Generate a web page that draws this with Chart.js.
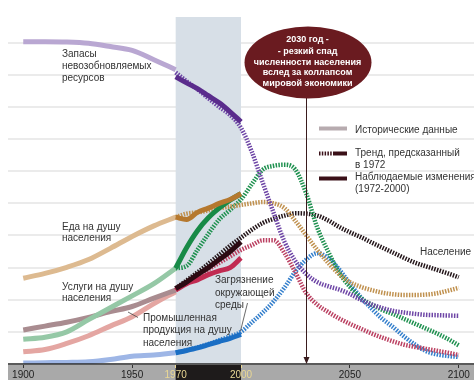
<!DOCTYPE html>
<html lang="ru">
<head>
<meta charset="utf-8">
<script src="https://cdn.jsdelivr.net/npm/chart.js@4/dist/chart.umd.min.js"></script>
<style>
  html, body { margin: 0; padding: 0; background: #fff; }
  #wrap { width: 474px; height: 389px; position: relative; }
</style>
</head>
<body>
<div id="wrap"><canvas id="chart"></canvas></div>
<script>
// ---- data ----------------------------------------------------
const histYears  = [1900, 1910, 1920, 1930, 1940, 1950, 1960, 1970]
const obsYears   = [1970, 1975, 1980, 1985, 1990, 1995, 2000]
const trendYears = [1970, 1975, 1980, 1985, 1990, 1995, 2000, 2005, 2010, 2015, 2020, 2025, 2030, 2035,
                    2040, 2045, 2050, 2055, 2060, 2065, 2070, 2075, 2080, 2085, 2090, 2095, 2100]
const xTicks      = [1900, 1950, 1970, 2000, 2050, 2100]
const shadeYears  = [1970, 2000]
const collapseYear = 2030

const resourcesHist  = [10.03, 10.03, 10.02, 9.98, 9.88, 9.76, 9.47, 9.16]
const resourcesObs   = [8.94, 8.75, 8.57, 8.35, 8.13, 7.85, 7.54]
const resourcesTrend = [9.07, 8.8, 8.55, 8.27, 8.0, 7.75, 7.35, 6.6, 5.64, 4.7, 3.8, 3.2, 2.8, 2.55,
                        2.42, 2.32, 2.18, 2.0, 1.85, 1.74, 1.65, 1.6, 1.56, 1.53, 1.52, 1.51, 1.5]

const foodHist  = [2.67, 2.82, 3.01, 3.25, 3.6, 3.97, 4.3, 4.57]
const foodObs   = [4.57, 4.5, 4.72, 4.85, 5.0, 5.12, 5.3]
const foodTrend = [4.57, 4.68, 4.72, 4.78, 4.85, 4.9, 4.95, 5.0, 5.04, 5.0, 4.85, 4.45, 4.0, 3.55,
                   3.15, 2.8, 2.55, 2.4, 2.3, 2.22, 2.17, 2.15, 2.15, 2.16, 2.2, 2.28, 2.37]

const servicesHist  = [0.77, 0.83, 1.0, 1.38, 1.75, 2.12, 2.5, 2.98]
const servicesObs   = [2.98, 3.62, 4.15, 4.55, 4.85, 5.1, 5.3]
const servicesTrend = [2.98, 3.05, 3.55, 4.05, 4.5, 4.8, 5.12, 5.6, 6.05, 6.17, 6.2, 6.05, 5.3, 4.25,
                       3.5, 2.85, 2.4, 2.05, 1.85, 1.68, 1.55, 1.4, 1.25, 1.1, 0.95, 0.78, 0.58]

const populationHist  = [1.06, 1.18, 1.3, 1.45, 1.63, 1.79, 2.05, 2.3]
const populationObs   = [2.35, 2.55, 2.78, 3.0, 3.25, 3.5, 3.8]
const populationTrend = [2.35, 2.6, 2.85, 3.12, 3.4, 3.68, 3.93, 4.18, 4.39, 4.52, 4.62, 4.69, 4.68, 4.62,
                         4.47, 4.27, 4.1, 3.95, 3.78, 3.62, 3.46, 3.3, 3.15, 3.04, 2.93, 2.82, 2.7]

const industryHist  = [0.38, 0.45, 0.64, 0.88, 1.18, 1.47, 1.88, 2.25]
const industryObs   = [2.3, 2.5, 2.62, 2.78, 2.9, 3.0, 3.3]
const industryTrend = [2.3, 2.55, 2.75, 2.95, 3.15, 3.35, 3.55, 3.7, 3.85, 3.85, 3.45, 2.85, 2.2, 1.85,
                       1.62, 1.42, 1.25, 1.1, 0.95, 0.82, 0.7, 0.6, 0.53, 0.47, 0.41, 0.35, 0.28]

const pollutionHist  = [0.03, 0.04, 0.05, 0.07, 0.14, 0.24, 0.28, 0.35]
const pollutionObs   = [0.35, 0.42, 0.5, 0.6, 0.7, 0.8, 0.92]
const pollutionTrend = [0.35, 0.43, 0.52, 0.62, 0.74, 0.86, 1.0, 1.3, 1.6, 1.95, 2.38, 2.88, 3.25, 3.45,
                        3.3, 2.95, 2.5, 2.08, 1.72, 1.4, 1.14, 0.85, 0.6, 0.4, 0.3, 0.25, 0.22]

// ---- series styling (hist / observed / trend colours) --------
const series = [
  { hist: resourcesHist,  obs: resourcesObs,  trend: resourcesTrend,  colors: ['#b9a7d2', '#5a2c8c', '#6e46a6'] },
  { hist: foodHist,       obs: foodObs,       trend: foodTrend,       colors: ['#ddba90', '#b5782e', '#c0914f'] },
  { hist: servicesHist,   obs: servicesObs,   trend: servicesTrend,   colors: ['#95c8a6', '#188a47', '#1f9150'] },
  { hist: populationHist, obs: populationObs, trend: populationTrend, colors: ['#a98c90', '#2c0a12', '#24161a'] },
  { hist: industryHist,   obs: industryObs,   trend: industryTrend,   colors: ['#e4a6a2', '#c12b52', '#bb4162'] },
  { hist: pollutionHist,  obs: pollutionObs,  trend: pollutionTrend,  colors: ['#9eb6e6', '#1a6ec4', '#347fcc'] },
]

const DASH = [1.5, 1.3]
const pts = (xs, ys) => xs.map((x, i) => ({ x, y: ys[i] }))

const datasets = []
series.forEach(s => {
  const base = { borderWidth: 5, pointRadius: 0, fill: false, tension: 0.4,
                 cubicInterpolationMode: 'monotone', borderCapStyle: 'butt', borderJoinStyle: 'round' }
  datasets.push({ ...base, data: pts(histYears, s.hist),   borderColor: s.colors[0], order: 3 })
  datasets.push({ ...base, data: pts(trendYears, s.trend), borderColor: s.colors[2], borderDash: DASH, borderWidth: 4.5, order: 2 })
  datasets.push({ ...base, data: pts(obsYears, s.obs),     borderColor: s.colors[1], order: 1 })
})

// ---- decorations: bands, arrow, callout, labels, legend ------
const FONT = '"Liberation Sans", Arial, sans-serif'

function textLines(ctx, lines, x, y, step) {
  lines.forEach((t, i) => ctx.fillText(t, x, y + i * step))
}

const decor = {
  id: 'decor',
  beforeDraw(chart) {
    const { ctx, chartArea: a, scales: { x } } = chart
    ctx.save()
    ctx.fillStyle = '#a9a9a9'
    ctx.fillRect(a.left, a.bottom, a.right - a.left, 16)
    const x0 = x.getPixelForValue(shadeYears[0]), x1 = x.getPixelForValue(shadeYears[1])
    ctx.fillStyle = '#1e1b1b'
    ctx.fillRect(x0, a.bottom, x1 - x0, 16)
    ctx.restore()
  },
  beforeDatasetsDraw(chart) {
    const { ctx, chartArea: a, scales: { x } } = chart
    const x0 = x.getPixelForValue(shadeYears[0]), x1 = x.getPixelForValue(shadeYears[1])
    ctx.save()
    ctx.fillStyle = '#d7dfe7'
    ctx.fillRect(x0, a.top, x1 - x0, a.bottom - a.top)
    ctx.restore()
  },
  afterDatasetsDraw(chart) {
    const { ctx, chartArea: a, scales: { x } } = chart
    ctx.save()

    // axis line
    ctx.strokeStyle = '#2a2a2a'
    ctx.lineWidth = 1.5
    ctx.beginPath(); ctx.moveTo(a.left, a.bottom); ctx.lineTo(a.right, a.bottom); ctx.stroke()

    // collapse arrow
    const xc = Math.round(x.getPixelForValue(collapseYear)) + 0.5
    ctx.strokeStyle = '#3a1c1e'
    ctx.lineWidth = 1
    ctx.beginPath(); ctx.moveTo(xc, 95); ctx.lineTo(xc, a.bottom - 5); ctx.stroke()
    ctx.fillStyle = '#3a1c1e'
    ctx.beginPath(); ctx.moveTo(xc - 3, a.bottom - 7); ctx.lineTo(xc + 3, a.bottom - 7); ctx.lineTo(xc, a.bottom); ctx.closePath(); ctx.fill()

    // callout ellipse
    ctx.fillStyle = '#6a1b20'
    ctx.beginPath(); ctx.ellipse(xc + 1.5, 62.5, 63.5, 36, 0, 0, Math.PI * 2); ctx.fill()
    ctx.fillStyle = '#ffffff'
    ctx.font = `bold 9px ${FONT}`
    ctx.textAlign = 'center'
    ctx.textBaseline = 'middle'
    const callY = [39.5, 51.5, 62.5, 73, 84]
    ;['2030 год -', '- резкий спад', 'численности населения', 'вслед за коллапсом', 'мировой экономики']
      .forEach((t, i) => ctx.fillText(t, xc + 1, callY[i]))

    // series labels
    ctx.fillStyle = '#333'
    ctx.font = `10px ${FONT}`
    ctx.textAlign = 'left'
    textLines(ctx, ['Запасы', 'невозобновляемых', 'ресурсов'], 62, 54, 12.2)
    textLines(ctx, ['Еда на душу', 'населения'], 62, 227, 11.6)
    textLines(ctx, ['Услуги на душу', 'населения'], 62, 287.5, 11.2)
    textLines(ctx, ['Промышленная', 'продукция на душу', 'населения'], 143, 318.5, 12.2)
    textLines(ctx, ['Загрязнение', 'окружающей', 'среды'], 215, 280.5, 12.4)
    ctx.fillText('Население', 420, 252)

    // leader lines
    ctx.strokeStyle = '#444'
    ctx.lineWidth = 0.8
    ctx.beginPath(); ctx.moveTo(128, 312); ctx.lineTo(138, 317.5); ctx.stroke()
    ctx.beginPath(); ctx.moveTo(247.5, 303); ctx.lineTo(240.5, 331); ctx.stroke()

    // legend
    ctx.lineWidth = 4
    ctx.strokeStyle = '#b7abaf'
    ctx.beginPath(); ctx.moveTo(319, 128.5); ctx.lineTo(347, 128.5); ctx.stroke()
    ctx.strokeStyle = '#3a1018'
    ctx.setLineDash(DASH)
    ctx.beginPath(); ctx.moveTo(319, 153.5); ctx.lineTo(333, 153.5); ctx.stroke()
    ctx.setLineDash([])
    ctx.beginPath(); ctx.moveTo(333, 153.5); ctx.lineTo(347, 153.5); ctx.stroke()
    ctx.beginPath(); ctx.moveTo(319, 178.5); ctx.lineTo(347, 178.5); ctx.stroke()
    ctx.fillStyle = '#333'
    ctx.fillText('Исторические данные', 355, 130)
    textLines(ctx, ['Тренд, предсказанный', 'в 1972'], 355, 153, 12.5)
    textLines(ctx, ['Наблюдаемые изменения', '(1972-2000)'], 355, 177, 12.5)

    ctx.restore()
  },
}

const isShade = v => v === shadeYears[0] || v === shadeYears[1]

new Chart(document.getElementById('chart'), {
  type: 'line',
  data: { datasets },
  options: {
    responsive: true,
    maintainAspectRatio: false,
    animation: false,
    layout: { padding: { left: 8, right: 0, top: 17, bottom: 7 } },
    plugins: { legend: { display: false }, tooltip: { enabled: false } },
    scales: {
      x: {
        type: 'linear', min: 1893, max: 2107,
        afterBuildTicks: sc => { sc.ticks = xTicks.map(v => ({ value: v })) },
        ticks: {
          autoSkip: false, maxRotation: 0, padding: 1,
          font: { size: 10, family: FONT },
          color: c => isShade(c.tick.value) ? '#ead894' : '#1e1e1e',
          callback: v => String(v),
        },
        grid: {
          drawOnChartArea: false, drawTicks: true, tickLength: 4, lineWidth: 1,
          tickColor: c => isShade(c.tick.value) ? '#ead894' : '#333',
        },
        border: { display: false },
      },
      y: {
        min: 0, max: 10.8,
        afterBuildTicks: sc => { sc.ticks = Array.from({ length: 11 }, (_, i) => ({ value: i })) },
        ticks: { display: false },
        grid: { drawTicks: false, color: '#ebebeb', lineWidth: 2 },
        border: { display: false },
      },
    },
  },
  plugins: [decor],
})
</script>
</body>
</html>
